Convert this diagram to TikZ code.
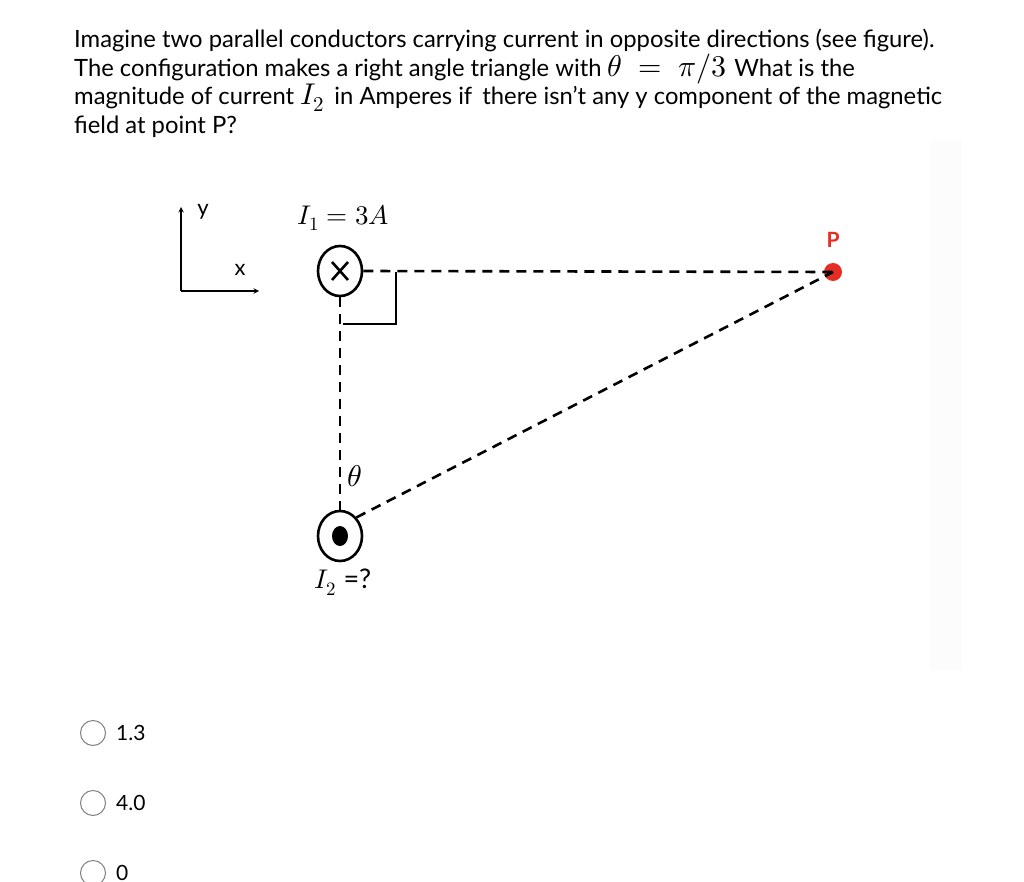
\documentclass[tikz,border=0pt]{standalone}
\usetikzlibrary{shapes.geometric}
\usepackage{fontspec}
\setmainfont{Lato}
\usepackage{unicode-math}
\setmathfont{Latin Modern Math}
\begin{document}
\begin{tikzpicture}[x=1pt,y=-1pt,
  txt/.style={anchor=west,inner sep=0pt,font=\fontsize{23.8}{28}\selectfont},
  dsh/.style={line width=2.6pt,dash pattern=on 10pt off 7pt},
  wire/.style={draw,line width=2.6pt,ellipse,minimum width=44pt,minimum height=50pt,inner sep=0pt},
  radio/.style={draw=gray,line width=1pt,circle,minimum size=25pt,inner sep=0pt},
  opt/.style={anchor=west,inner sep=0pt,font=\fontsize{21}{24}\selectfont}]
\useasboundingbox (0,0) rectangle (1024,882);
\fill[gray!2] (930,140) rectangle (962,670);
\node[txt] (t1) at (74,40) {Imagine two parallel conductors carrying current in opposite directions (see figure).};
\node[txt] (t2) at (74,69) {The configuration makes a right angle triangle with \fontsize{30}{30}\selectfont$\theta\;=\;\pi/3$ \fontsize{23.8}{28}\selectfont What is the};
\node[txt] (t3) at (74,98) {magnitude of current \fontsize{30}{30}\selectfont$I_2$\fontsize{23.8}{28}\selectfont\, in Amperes if\, there isn't any y component of the magnetic};
\node[txt] (t4) at (74,127) {field at point P?};
% axes
\coordinate (o) at (181,291);
\coordinate (ya) at (181,207);
\coordinate (xa) at (259,291);
\draw[line width=1.4pt,-stealth] (o) -- (ya);
\draw[line width=1.4pt,-stealth] (o) -- (xa);
\node[font=\fontsize{22}{22}\selectfont] (yl) at (203,212) {y};
\node[font=\fontsize{22}{22}\selectfont] (xl) at (240,270) {x};
% wires
\node[wire] (w1) at (340,271) {};
\node[wire] (w2) at (340,536) {};
\draw[line width=2.6pt] (332,262) -- (348,280) (348,262) -- (332,280);
\fill (w2.center) ellipse (8pt and 10pt);
\node[circle,fill={rgb,255:red,230;green,45;blue,35},minimum size=18pt,inner sep=0pt] (p) at (833,272) {};
\node[text={rgb,255:red,230;green,45;blue,35},font=\bfseries\fontsize{21}{21}\selectfont] (pl) at (833,240) {P};
\draw[dsh] (w1.east) -- (p.center);
\draw[dsh] (w1.south) -- (w2.north);
\draw[dsh] (w2.north east) -- (p.center);
\draw[line width=1.6pt] (396,272) -- (396,324) -- (343,324);
\node[font=\fontsize{27}{27}\selectfont] (l1) at (343,218) {$I_1 = 3A$};
\node[font=\fontsize{27}{27}\selectfont] (l2) at (343,582) {$I_2$ =?};
\node[font=\fontsize{30}{30}\selectfont] (th) at (355,476) {$\theta$};
% options
\node[radio] (r1) at (93,733) {};
\node[radio] (r2) at (93,803) {};
\node[radio] (r3) at (93,873) {};
\node[opt] (o1) at (116,733) {1.3};
\node[opt] (o2) at (116,803) {4.0};
\node[opt] (o3) at (116,873) {0};
\end{tikzpicture}
\end{document}
